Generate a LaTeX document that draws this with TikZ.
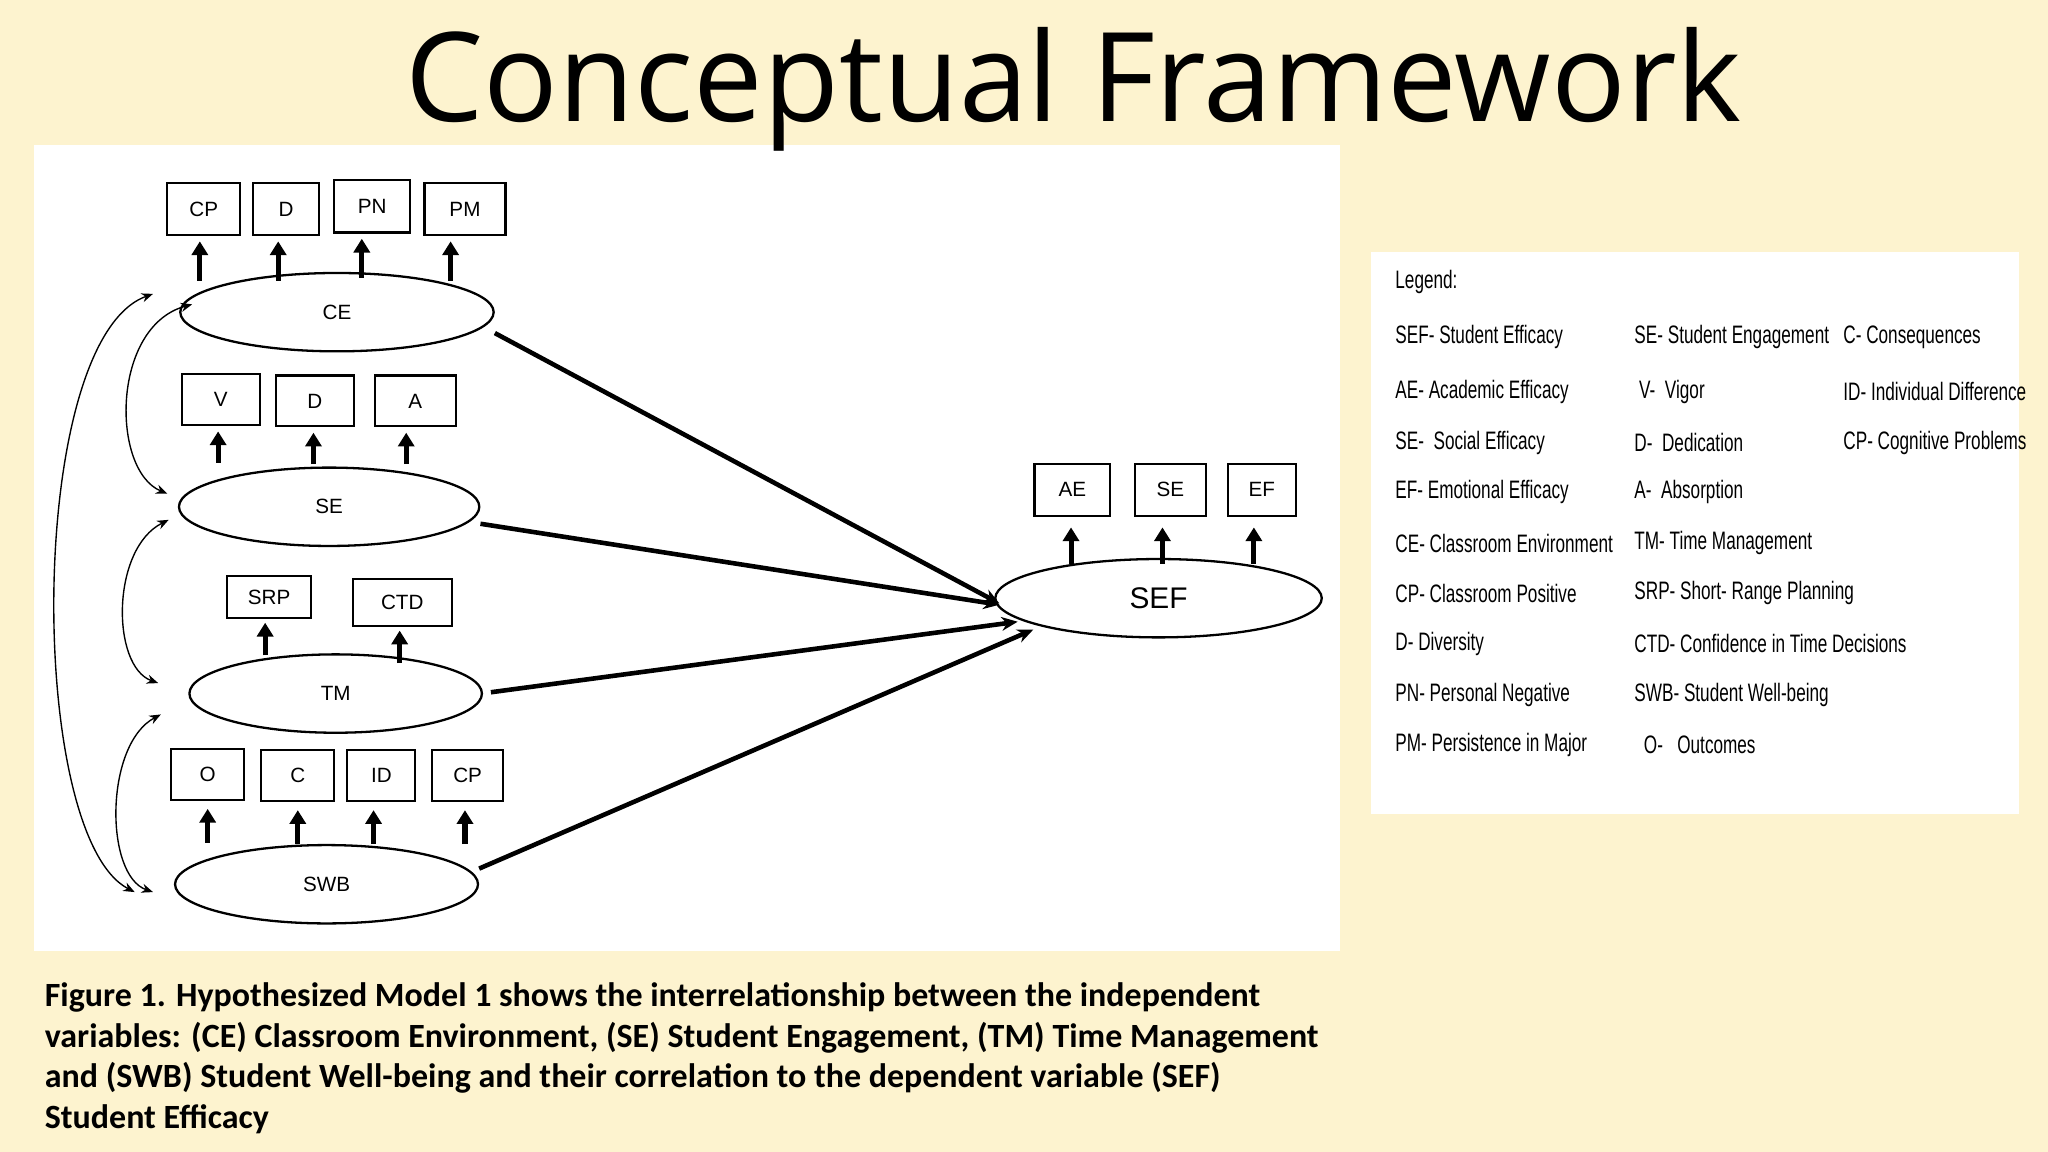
\documentclass[tikz,border=0pt]{standalone}
\usepackage{fontspec}
\setmainfont{Liberation Sans}
\newfontfamily\titlefont{Open Sans}
\newfontfamily\capfont{Carlito}
\newfontfamily\narrowfont[FakeStretch=0.68]{Liberation Sans}
\usetikzlibrary{shapes.geometric,arrows.meta,calc}
\definecolor{bg}{HTML}{FDF3CF}
\begin{document}
\begin{tikzpicture}[x=0.02cm,y=-0.02cm,
  bx/.style={draw,line width=0.9pt,fill=white,font=\fontsize{9}{10}\selectfont,inner sep=0pt,minimum height=0.78cm},
  el/.style={draw,ellipse,line width=1pt,inner sep=0pt,minimum height=1.2cm,font=\fontsize{9}{10}\selectfont},
  up/.style={line width=2.2pt,-{Triangle[width=7pt,length=6pt]}},
  main/.style={line width=2pt,-{Stealth[width=6pt,length=7pt]}},
  dbl/.style={line width=0.6pt,{Stealth[width=4pt,length=5pt]}-{Stealth[width=4pt,length=5pt]}},
  lg/.style={anchor=west,font=\narrowfont\fontsize{11}{12}\selectfont,inner sep=0pt}]
\fill[bg] (0,0) rectangle (1568,882);
\useasboundingbox (0,0) rectangle (1568,882);
\fill[white] (26,111) rectangle (1026,728);
\fill[white] (1050,193) rectangle (1546,623);
\node (title) at (822,68) {\titlefont\fontsize{54}{58}\selectfont Conceptual Framework};
% ellipses
\node[el,minimum width=4.8cm] (ce) at (258,239) {CE};
\node[el,minimum width=4.6cm] (se) at (252,388) {SE};
\node[el,minimum width=4.48cm] (tm) at (257,531) {TM};
\node[el,minimum width=4.64cm] (swb) at (250,677) {SWB};
\node[el,minimum width=5cm,font=\fontsize{13}{14}\selectfont] (sef) at (887,458) {SEF};
% boxes
\node[bx,minimum width=1.12cm,minimum height=0.8cm] (cp1) at (156,160) {CP};
\node[bx,minimum width=1.0cm,minimum height=0.8cm] (d1) at (219,160) {D};
\node[bx,minimum width=1.16cm,minimum height=0.8cm] (pn) at (285,158) {PN};
\node[bx,minimum width=1.24cm,minimum height=0.8cm] (pm) at (356,160) {PM};
\node[bx,minimum width=1.2cm] (v) at (169,306) {V};
\node[bx,minimum width=1.2cm] (d2) at (241,307) {D};
\node[bx,minimum width=1.24cm] (a) at (318,307) {A};
\node[bx,minimum width=1.28cm,minimum height=0.64cm] (srp) at (206,457) {SRP};
\node[bx,minimum width=1.52cm,minimum height=0.72cm] (ctd) at (308,461) {CTD};
\node[bx,minimum width=1.12cm] (o) at (159,593) {O};
\node[bx,minimum width=1.12cm] (c) at (228,594) {C};
\node[bx,minimum width=1.04cm] (id) at (292,594) {ID};
\node[bx,minimum width=1.08cm] (cp2) at (358,594) {CP};
\node[bx,minimum width=1.16cm,minimum height=0.8cm] (ae) at (821,375) {AE};
\node[bx,minimum width=1.08cm,minimum height=0.8cm] (se2) at (896,375) {SE};
\node[bx,minimum width=1.04cm,minimum height=0.8cm] (ef) at (966,375) {EF};
% short arrows
\foreach \b/\dx in {cp1/-3,d1/-6,pn/-8,pm/-11}{
  \draw[up] ($(\b.south)+(\dx,34)$) -- ($(\b.south)+(\dx,4)$);}
\foreach \b/\dx in {v/-2,d2/-1,a/-7}{
  \draw[up] ($(\b.south)+(\dx,28)$) -- ($(\b.south)+(\dx,4)$);}
\draw[up] ($(srp.south)+(-3,28)$) -- ($(srp.south)+(-3,3)$);
\draw[up] ($(ctd.south)+(-2,28)$) -- ($(ctd.south)+(-2,3)$);
\foreach \b/\dx in {o/0,c/0,id/-6,cp2/-2}{
  \draw[up] ($(\b.south)+(\dx,32)$) -- ($(\b.south)+(\dx,6)$);}
\foreach \b/\dx in {ae/-1,se2/-6,ef/-6}{
  \draw[up] ($(\b.south)+(\dx,36)$) -- ($(\b.south)+(\dx,8)$);}
% main arrows
\draw[main] ($(ce.east)+(0,16)$) -- ($(sef.west)+(4,4)$);
\draw[main] ($(se.east)+(0,13)$) -- ($(sef.west)+(4,5)$);
\draw[main] ($(tm.east)+(6,-1)$) -- ($(sef.west)+(18,18)$);
\draw[main] ($(swb.east)+(0,-12)$) -- ($(sef.west)+(30,24)$);
% correlations
\draw[dbl] ([shift={(10,-6)}]ce.west) .. controls (85,250) and (85,360) .. ([shift={(-8,-10)}]se.west);
\draw[dbl] ([shift={(-7,10)}]se.west) .. controls (85,420) and (85,510) .. ([shift={(-23,-8)}]tm.west);
\draw[dbl] ([shift={(-21,16)}]tm.west) .. controls (80,570) and (80,670) .. ([shift={(-16,6)}]swb.west);
\draw[dbl] ([shift={(-20,-14)}]ce.west) .. controls (20,260) and (20,640) .. ([shift={(-30,6)}]swb.west);
% legend
\node[lg] (l0) at (1068,216) {Legend:};
\node[lg] at (1068,258) {SEF- Student Efficacy};
\node[lg] at (1068,300) {AE- Academic Efficacy};
\node[lg] at (1068,339) {SE-\ \ Social Efficacy};
\node[lg] at (1068,377) {EF- Emotional Efficacy};
\node[lg] at (1068,416) {CE- Classroom Environment};
\node[lg] at (1068,454) {CP- Classroom Positive};
\node[lg] at (1068,493) {D- Diversity};
\node[lg] at (1068,532) {PN- Personal Negative};
\node[lg] at (1068,570) {PM- Persistence in Major};
\node[lg] at (1251,258) {SE- Student Engagement};
\node[lg] at (1251,300) {\ V-\ \ Vigor};
\node[lg] at (1251,339) {D-\ \ Dedication};
\node[lg] at (1251,377) {A-\ \ Absorption};
\node[lg] at (1251,416) {TM- Time Management};
\node[lg] at (1251,454) {SRP- Short- Range Planning};
\node[lg] at (1251,493) {CTD- Confidence in Time Decisions};
\node[lg] at (1251,532) {SWB- Student Well-being};
\node[lg] at (1251,570) {\ \ O-\ \ \ Outcomes};
\node[lg] at (1411,258) {C- Consequences};
\node[lg] at (1411,300) {ID- Individual Difference};
\node[lg] at (1411,339) {CP- Cognitive Problems};
% caption
\node[anchor=north west,align=left,inner sep=0pt,font=\capfont\bfseries\fontsize{14.8}{17.7}\selectfont] (cap) at (34,752)
{Figure 1. Hypothesized Model 1 shows the interrelationship between the independent\\
variables: (CE) Classroom Environment, (SE) Student Engagement, (TM) Time Management\\
and (SWB) Student Well-being and their correlation to the dependent variable (SEF)\\
Student Efficacy};
\end{tikzpicture}
\end{document}
